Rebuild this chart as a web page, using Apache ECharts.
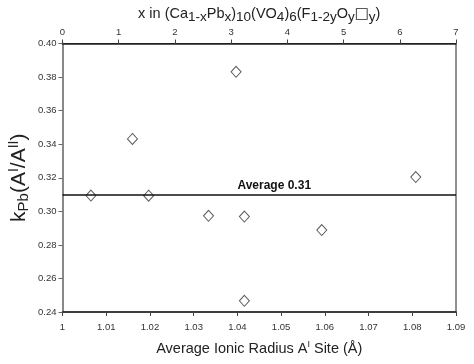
<!DOCTYPE html>
<html><head><meta charset="utf-8">
<script src="https://cdn.jsdelivr.net/npm/echarts@6/dist/echarts.min.js"></script>
<style>html,body{margin:0;padding:0;background:#fff}#c{width:474px;height:364px}</style>
</head><body><div id="c"></div>
<script>
const radius = [1.0065, 1.0160, 1.0197, 1.0397, 1.0334, 1.0416, 1.0593, 1.0416, 1.0808];
const kPb    = [0.3094, 0.3431, 0.3093, 0.3831, 0.2973, 0.2969, 0.2888, 0.2467, 0.3204];
const averageK = 0.31;
const averageLabel = 'Average 0.31';
const xBottomRange = [1, 1.09, 0.01];
const xTopRange = [0, 7, 1];
const yRange = [0.24, 0.40, 0.02];

const font = 'Liberation Sans, Arial, sans-serif';
const chart = echarts.init(document.getElementById('c'), null, {renderer: 'canvas'});
chart.setOption({
  animation: false,
  backgroundColor: '#fff',
  grid: {left: 62.5, right: 18, top: 43.5, bottom: 52, show: true, borderColor: '#222', borderWidth: 1,
    containLabel: false, outerBoundsMode: 'none'},
  xAxis: [{
    type: 'value', min: xBottomRange[0], max: xBottomRange[1], interval: xBottomRange[2], position: 'bottom',
    axisLine: {show: true, lineStyle: {color: '#222', width: 1.5}},
    axisTick: {show: true, length: 4, lineStyle: {color: '#444'}},
    splitLine: {show: false},
    axisLabel: {fontFamily: font, fontSize: 9.5, color: '#333', margin: 10,
      formatter: v => String(parseFloat(v.toFixed(2)))},
    name: 'Average Ionic Radius A{sup|I} Site (Å)', nameLocation: 'middle', nameGap: 28, nameMoveOverlap: false,
    nameTextStyle: {fontFamily: font, fontSize: 14.5, color: '#222',
      rich: {sup: {fontFamily: font, fontSize: 9, verticalAlign: 'top', padding: [0,0,9,0], color: '#222'}}}
  }, {
    type: 'value', min: xTopRange[0], max: xTopRange[1], interval: xTopRange[2], position: 'top',
    axisLine: {show: true, lineStyle: {color: '#222', width: 1.5}},
    axisTick: {show: true, length: 4, inside: false, lineStyle: {color: '#444'}},
    splitLine: {show: false},
    axisLabel: {fontFamily: font, fontSize: 9.5, color: '#333', margin: 6},
    name: 'x in (Ca{sub|1-x}Pb{sub|x}){sub|10}(VO{sub|4}){sub|6}(F{sub|1-2y}O{sub|y}{box|□}{sub|y})',
    nameLocation: 'middle', nameGap: 19, nameMoveOverlap: false,
    nameTextStyle: {fontFamily: font, fontSize: 14.5, color: '#222',
      rich: {
        sub: {fontFamily: font, fontSize: 13.5, color: '#222', padding: [7,0,0,0]},
        box: {fontFamily: 'DejaVu Sans', fontSize: 15, fontWeight: 'bold', color: '#222'}
      }}
  }],
  yAxis: [{
    type: 'value', min: yRange[0], max: yRange[1], interval: yRange[2],
    axisLine: {show: true, lineStyle: {color: '#888', width: 2}},
    axisTick: {show: true, length: 4, lineStyle: {color: '#666'}},
    splitLine: {show: false},
    axisLabel: {fontFamily: font, fontSize: 9.5, color: '#333', margin: 6, formatter: v => v.toFixed(2)},
    name: 'k{sub|Pb}(A{sup|I}/A{sup|II})', nameLocation: 'middle', nameGap: 31, nameRotate: 90, nameMoveOverlap: false,
    nameTextStyle: {fontFamily: font, fontSize: 21, color: '#222',
      rich: {
        sub: {fontFamily: font, fontSize: 15, color: '#222', padding: [10,0,0,0]},
        sup: {fontFamily: font, fontSize: 14, color: '#222', padding: [0,0,10,0]}
      }}
  }],
  series: [{
    type: 'scatter', xAxisIndex: 0, yAxisIndex: 0,
    data: radius.map((r, i) => [r, kPb[i]]),
    symbol: 'diamond', symbolSize: [10, 11],
    itemStyle: {color: '#fff', borderColor: '#333', borderWidth: 1},
    markLine: {
      silent: true, symbol: 'none',
      lineStyle: {color: '#111', width: 1.5, type: 'solid'},
      label: {show: true, position: 'insideMiddleTop', formatter: averageLabel, distance: 3, offset: [15, 0],
        fontFamily: font, fontSize: 12, fontWeight: 'bold', color: '#111'},
      data: [{yAxis: averageK}]
    }
  }]
});
</script></body></html>
